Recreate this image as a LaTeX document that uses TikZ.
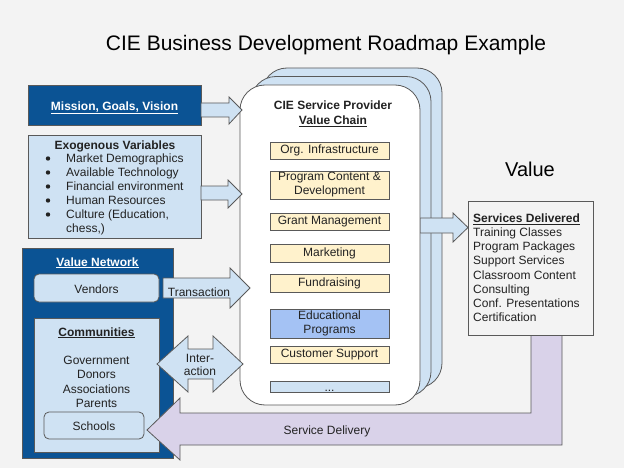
\documentclass[tikz,border=0pt]{standalone}
\usepackage{fontspec}
\setmainfont{Liberation Sans}
\definecolor{bgc}{HTML}{F3F3F3}
\definecolor{darkb}{HTML}{0B5394}
\definecolor{lightb}{HTML}{CFE2F3}
\definecolor{yel}{HTML}{FFF2CC}
\definecolor{edub}{HTML}{A4C2F4}
\definecolor{purp}{HTML}{D9D2E9}
\definecolor{bordc}{HTML}{595959}
\definecolor{txt}{HTML}{222222}
\begin{document}
\begin{tikzpicture}[x=1pt,y=-1pt,
  font=\fontsize{12}{14}\selectfont, text=txt,
  darkbox/.style={draw=bordc, fill=darkb, line width=0.8pt, inner sep=0},
  lbbox/.style={draw=bordc, fill=lightb, line width=0.8pt, inner sep=0},
  ybox/.style={draw=bordc, fill=yel, line width=0.8pt, inner sep=0, minimum width=119, align=center},
  stackbox/.style={draw=bordc, fill=lightb, line width=0.8pt, inner sep=0, rounded corners=25pt, minimum width=180, minimum height=320},
  blockarr/.style={draw=bordc, fill=lightb, line width=0.8pt, line join=miter},
  lbl/.style={anchor=base, inner sep=0},
  lblw/.style={anchor=base west, inner sep=0},
  bul/.style={circle, fill=txt, inner sep=0, minimum size=4.4}]
\useasboundingbox[fill=bgc] (0,0) rectangle (624,468);

% titles
\node[lbl, font=\fontsize{21}{24}\selectfont, text=black] (title) at (326,50.5) {CIE Business Development Roadmap Example};
\node[lbl, font=\fontsize{20}{24}\selectfont, text=black] (value) at (530,177) {Value};

% left column
\node[darkbox, minimum width=173, minimum height=40, text=white] (mission) at (114.5,105) {};
\node[lbl, text=white] at (114.5,110.3) {\bfseries\underline{Mission, Goals, Vision}};

\node[lbbox, minimum width=173, minimum height=103] (exo) at (114.5,186.5) {};
\node[lbl] at (115,149.5) {\bfseries Exogenous Variables};
\foreach \t [count=\i] in {Market Demographics, Available Technology, Financial environment, Human Resources, {Culture (Education,}}{
  \node[bul] at (48,144.5+14*\i) {};
  \node[lblw] at (66,148.5+14*\i) {\t};
}
\node[lblw] at (66,232.5) {chess,)};

\node[darkbox, minimum width=151, minimum height=210] (valnet) at (97.5,353) {};
\node[lbl, text=white] at (97.5,266) {\bfseries\underline{Value Network}};
\node[lbbox, rounded corners=5pt, minimum width=125, minimum height=28] (vendors) at (96.5,288) {};
\node[lbl] at (96.5,293.5) {Vendors};
\node[lbbox, minimum width=125, minimum height=134] (comm) at (96.5,385) {};
\node[lbl] at (96.5,336) {\bfseries\underline{Communities}};
\foreach \t [count=\i] in {Government, Donors, Associations, Parents}{
  \node[lbl] at (96.5,350.3+14.3*\i) {\t};
}
\node[lbbox, rounded corners=5pt, minimum width=100, minimum height=27] (schools) at (94,425.5) {};
\node[lbl] at (94,430) {Schools};

% service delivery arrow
\draw[blockarr, fill=purp] (531,333) -- (562,333) -- (562,445) -- (180,445) -- (180,460)
  -- (147,430) -- (180,398) -- (180,413) -- (531,413) -- cycle;
\node[lbl] (sdl) at (327,434.5) {Service Delivery};

% services delivered
\node[draw=bordc, fill=bgc, line width=0.8pt, minimum width=125, minimum height=134, inner sep=0] (serv) at (530.5,268) {};
\node[lblw] at (473,222.3) {\bfseries\underline{Services Delivered}};
\foreach \t [count=\i] in {Training Classes, Program Packages, Support Services, Classroom Content, Consulting, Conf. Presentations, Certification}{
  \node[lblw] at (473,222.3+14.2*\i) {\t};
}

% value chain stack
\node[stackbox] (back3) at (352,228) {};
\node[stackbox] (back2) at (341,236.5) {};
\draw[blockarr] (420,218) -- (453,218) -- (453,213) -- (468,227.5) -- (453,242) -- (453,233) -- (420,233) -- cycle;
\node[stackbox, fill=white] (front) at (330,245) {};
\node[lbl] at (333,109.5) {\bfseries CIE Service Provider};
\node[lbl] at (333,124.5) {\bfseries\underline{Value Chain}};
\node[ybox, minimum height=17] (org) at (329.5,150.5) {Org. Infrastructure};
\node[ybox, minimum height=28] (prog) at (329.5,185) {Program Content \&\\ Development};
\node[ybox, minimum height=17] (grant) at (329.5,221.5) {Grant Management};
\node[ybox, minimum height=18] (mkt) at (329.5,253) {Marketing};
\node[ybox, minimum height=18] (fund) at (329.5,283) {Fundraising};
\node[ybox, fill=edub, minimum height=29] (edu) at (329.5,323.5) {Educational\\ Programs};
\node[ybox, minimum height=17] (cust) at (329.5,354.5) {Customer Support};
\node[ybox, fill=lightb, minimum height=11] (more) at (329.5,386.5) {};
\node[lbl] at (329.5,391) {...};

% input arrows
\draw[blockarr] (201,103) -- (229,103) -- (229,97) -- (242,110) -- (229,124) -- (229,117) -- (201,117) -- cycle;
\draw[blockarr] (201,186) -- (228,186) -- (228,180) -- (242,194) -- (228,208) -- (228,200) -- (201,200) -- cycle;
\draw[blockarr] (163,278) -- (230,278) -- (230,268) -- (250,288) -- (230,308) -- (230,298) -- (163,298) -- cycle;
\node[lbl] (trl) at (199,296.5) {Transaction};
\draw[blockarr] (157,364) -- (188,336) -- (188,349) -- (213,349) -- (213,336) -- (243,364)
  -- (213,392) -- (213,379) -- (188,379) -- (188,392) -- cycle;
\node[align=center, inner sep=0, font=\fontsize{12}{13}\selectfont] (intl) at (200,365) {Inter-\\ action};
\end{tikzpicture}
\end{document}
